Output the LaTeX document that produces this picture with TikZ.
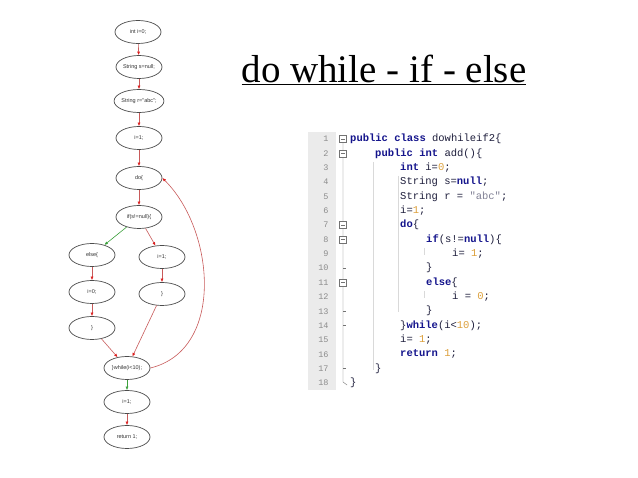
\documentclass[tikz,border=0pt]{standalone}
\usepackage{fontspec}
\setmainfont{Liberation Serif}
\newfontfamily\codefont{Liberation Mono}
\newfontfamily\nodefont{Liberation Sans}
\usetikzlibrary{shapes.geometric,arrows.meta}
\definecolor{edge}{RGB}{200,90,90}
\definecolor{tip}{RGB}{220,30,30}
\definecolor{grn}{RGB}{60,160,60}
\definecolor{navy}{RGB}{30,30,60}
\definecolor{kwc}{RGB}{20,20,140}
\definecolor{num}{RGB}{220,160,60}
\definecolor{str}{RGB}{130,130,150}
\newcommand{\kw}[1]{{\bfseries\color{kwc}#1}}
\newcommand{\nm}[1]{{\color{num}#1}}
\begin{document}
\begin{tikzpicture}[x=1pt,y=-1pt,
  st/.style={ellipse,draw=black!70,line width=0.7pt,minimum width=46pt,minimum height=23pt,inner sep=0pt,font=\nodefont\fontsize{5.5}{6.5}\selectfont,text=black!80},
  ar/.style={draw=edge,line width=0.6pt,-{Latex[length=3.5pt,width=3pt,color=tip]}},
  ag/.style={draw=grn,line width=0.6pt,-{Latex[length=3.5pt,width=3pt]}},
  ln/.style={anchor=east,font=\codefont\fontsize{8.5}{10}\selectfont,text=black!45},
  cd/.style={anchor=west,font=\codefont\fontsize{10.5}{12}\selectfont,text=navy,inner sep=0pt},
  fold/.style={draw=black!55,fill=white,line width=0.4pt}]
\useasboundingbox (0,0) rectangle (638,478);
\fill[white] (0,0) rectangle (638,478);
% flowchart
\node[st] (n1) at (138,32) {int i=0;};
\node[st] (n2) at (139,67) {String s=null;};
\node[st] (n3) at (139,101) {String r="abc";};
\node[st] (n4) at (139,138) {i=1;};
\node[st] (n5) at (139,178) {do\{};
\node[st] (n6) at (139,217) {if(s!=null)\{};
\node[st] (n7) at (92,255) {else\{};
\node[st] (n8) at (162,257) {i=1;};
\node[st] (n9) at (92,292) {i=0;};
\node[st] (n10) at (162,294) {\}};
\node[st] (n11) at (92,328) {\}};
\node[st] (n12) at (127,368) {\}while(i<10);};
\node[st] (n13) at (127,402) {i=1;};
\node[st] (n14) at (127,437) {return 1;};
\draw[ar] (n1) -- (n2);
\draw[ar] (n2) -- (n3);
\draw[ar] (n3) -- (n4);
\draw[ar] (n4) -- (n5);
\draw[ar] (n5) -- (n6);
\draw[ag] (n6) -- (n7);
\draw[ar] (n6) -- (n8);
\draw[ar] (n7) -- (n9);
\draw[ar] (n9) -- (n11);
\draw[ar] (n8) -- (n10);
\draw[ar] (n11) -- (n12);
\draw[ar] (n10) -- (n12);
\draw[ag] (n12) -- (n13);
\draw[ar] (n13) -- (n14);
\draw[ar] (n12.east) .. controls (225,350) and (215,230) .. (n5.east);
% title
\node[font=\fontsize{39}{44}\selectfont,inner sep=0pt] (title) at (384,70) {\underline{do while - if - else}};
% code panel
\fill[black!8] (308,132) rectangle (336,390);
\foreach \i in {1,...,18} { \node[ln] (l\i) at (332,139+14.35*\i-14.35) {\i}; }
\draw[black!55,line width=0.4pt] (343,143) -- (343,382) -- (347,385);
\foreach \i in {10,13,14,17} { \draw[black!55,line width=0.4pt] (343,139+14.35*\i-14.35) -- (346,139+14.35*\i-14.35); }
\foreach \i in {1,2,7,8,11} { \draw[fold] (339.5,135.5+14.35*\i-14.35) rectangle (346.5,142.5+14.35*\i-14.35); \draw[black!55,line width=0.4pt] (341,139+14.35*\i-14.35) -- (345,139+14.35*\i-14.35); }
\draw[black!15] (373,162) -- (373,370);
\draw[black!15] (398,176) -- (398,312);
\draw[black!15] (424,248) -- (424,255);
\draw[black!15] (424,291) -- (424,298);
\node[cd] (c1) at (350,139) {\kw{public class }dowhileif2\{};
\node[cd] (c2) at (375,153.35) {\kw{public int }add()\{};
\node[cd] (c3) at (400,167.7) {\kw{int }i=\nm{0};};
\node[cd] (c4) at (400,182.05) {String s=\kw{null};};
\node[cd] (c5) at (400,196.4) {String r = {\color{str}"abc"};};
\node[cd] (c6) at (400,210.75) {i=\nm{1};};
\node[cd] (c7) at (400,225.1) {\kw{do}\{};
\node[cd] (c8) at (426,239.45) {\kw{if}(s!=\kw{null})\{};
\node[cd] (c9) at (452,253.8) {i= \nm{1};};
\node[cd] (c10) at (426,268.15) {\}};
\node[cd] (c11) at (426,282.5) {\kw{else}\{};
\node[cd] (c12) at (452,296.85) {i = \nm{0};};
\node[cd] (c13) at (426,311.2) {\}};
\node[cd] (c14) at (400,325.55) {\}\kw{while}(i<\nm{10});};
\node[cd] (c15) at (400,339.9) {i= \nm{1};};
\node[cd] (c16) at (400,354.25) {\kw{return }\nm{1};};
\node[cd] (c17) at (375,368.6) {\}};
\node[cd] (c18) at (350,382.95) {\}};
\end{tikzpicture}
\end{document}
